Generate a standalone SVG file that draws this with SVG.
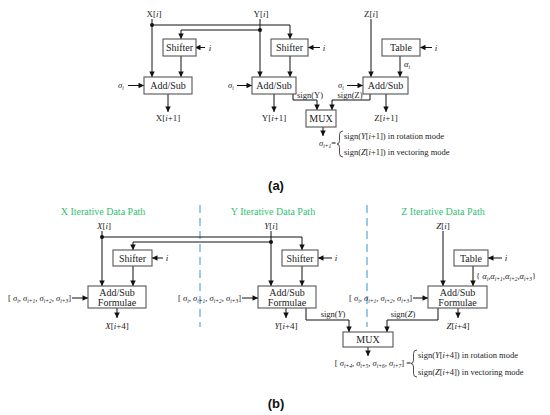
<svg xmlns="http://www.w3.org/2000/svg" width="550" height="415" viewBox="0 0 550 415">
<defs>
<marker id="ah" viewBox="0 0 6 6" refX="6" refY="3" markerWidth="6" markerHeight="5.5" markerUnits="userSpaceOnUse" orient="auto">
<path d="M0,0 L6,3 L0,6 z" fill="#111"/>
</marker>
<style>
text{font-family:"Liberation Serif","Times New Roman",serif;fill:#222}
.t{font-size:10px;text-anchor:middle}
.l{font-size:9px;text-anchor:middle}
.s{font-size:8.5px}
.m{text-anchor:middle}
.e{text-anchor:end}
.it{font-style:italic}
.sb{font-size:5.5px}
.box{fill:#fff;stroke:#555;stroke-width:1.1}
.c{fill:none;stroke:#111;stroke-width:1}
.a{fill:none;stroke:#111;stroke-width:1;marker-end:url(#ah)}
.dot{fill:#111}
.br{fill:none;stroke:#222;stroke-width:0.8}
.ttl{font-size:10px;text-anchor:middle;fill:#2fbf71}
.dash{stroke:#4a9fd8;stroke-width:1.1;stroke-dasharray:8,5}
.cap{font-family:"Liberation Sans",Arial,sans-serif;font-weight:bold;font-size:13px;text-anchor:middle;fill:#111}
</style>
</defs>
<rect width="550" height="415" fill="#fff"/>

<!-- ===== Part (a) ===== -->
<g id="connectors-a">
<path class="a" d="M152,19 V77"/>
<path class="a" d="M152,25 H290 V39"/>
<path class="a" d="M260,19 V77"/>
<path class="a" d="M260,30 H181 V39"/>
<path class="a" d="M181,56 V77"/>
<path class="a" d="M290,56 V77"/>
<path class="a" d="M205,47.5 H195"/>
<path class="a" d="M320,47.5 H308"/>
<path class="a" d="M128,85.5 H144"/>
<path class="a" d="M237,85.5 H252"/>
<path class="a" d="M347,85.5 H363"/>
<path class="a" d="M168,94 V112"/>
<path class="a" d="M274,94 V112"/>
<path class="a" d="M386,94 V112"/>
<path class="a" d="M371,19 V77"/>
<path class="a" d="M432,47.5 H420"/>
<path class="a" d="M400,56 V77"/>
<path class="a" d="M293,94 V100 H317 V110"/>
<path class="a" d="M370,94 V100 H332 V110"/>
<path class="a" d="M323,127 V136"/>
<circle class="dot" cx="152" cy="25" r="2"/>
<circle class="dot" cx="260" cy="30" r="2"/>
</g>

<g id="shifter-a1"><rect class="box" x="163" y="39" width="33" height="17"/><text class="t" x="179.5" y="51">Shifter</text></g>
<g id="shifter-a2"><rect class="box" x="271" y="39" width="37" height="17"/><text class="t" x="289.5" y="51">Shifter</text></g>
<g id="table-a"><rect class="box" x="382" y="39" width="38" height="17"/><text class="t" x="401" y="51">Table</text></g>
<g id="addsub-a1"><rect class="box" x="144" y="77" width="48" height="17"/><text class="t" x="168" y="89">Add/Sub</text></g>
<g id="addsub-a2"><rect class="box" x="252" y="77" width="44" height="17"/><text class="t" x="274" y="89">Add/Sub</text></g>
<g id="addsub-a3"><rect class="box" x="363" y="77" width="45" height="17"/><text class="t" x="385.5" y="89">Add/Sub</text></g>
<g id="mux-a"><rect class="box" x="306" y="110" width="30" height="17"/><text class="t" x="321" y="122">MUX</text></g>

<g id="labels-a">
<text class="l" x="154" y="17">X[<tspan class="it">i</tspan>]</text>
<text class="l" x="261" y="17">Y[<tspan class="it">i</tspan>]</text>
<text class="l" x="371" y="17">Z[<tspan class="it">i</tspan>]</text>
<text class="l it" x="210" y="51">i</text>
<text class="l it" x="324" y="51">i</text>
<text class="l it" x="436" y="51">i</text>
<text class="s" x="118" y="88"><tspan class="it">σ</tspan><tspan class="sb it" dy="1.5">i</tspan></text>
<text class="s" x="228" y="88"><tspan class="it">σ</tspan><tspan class="sb it" dy="1.5">i</tspan></text>
<text class="s" x="338" y="88"><tspan class="it">σ</tspan><tspan class="sb it" dy="1.5">i</tspan></text>
<text class="s" x="404" y="67"><tspan class="it">α</tspan><tspan class="sb it" dy="1.5">i</tspan></text>
<text class="l" x="168" y="121">X[<tspan class="it">i</tspan>+1]</text>
<text class="l" x="274" y="121">Y[<tspan class="it">i</tspan>+1]</text>
<text class="l" x="386" y="121">Z[<tspan class="it">i</tspan>+1]</text>
<text class="s m" x="310" y="98">sign(Y)</text>
<text class="s m" x="350" y="98">sign(Z)</text>
<text class="s e" x="336" y="146"><tspan class="it">σ</tspan><tspan class="sb it" dy="1.5">i+1</tspan><tspan dy="-1.5">=</tspan></text>
<path class="br" d="M343,131 Q339.5,131 339.5,134.5 V140.5 Q339.5,144 337,144 Q339.5,144 339.5,147.5 V153.5 Q339.5,157 343,157"/>
<text class="s" x="344" y="139">sign(<tspan class="it">Y</tspan>[<tspan class="it">i</tspan>+1]) in rotation mode</text>
<text class="s" x="344" y="155">sign(<tspan class="it">Z</tspan>[<tspan class="it">i</tspan>+1]) in vectoring mode</text>
<text class="cap" x="276" y="190">(a)</text>
</g>

<!-- ===== Part (b) ===== -->
<g id="dividers">
<line class="dash" x1="200" y1="205" x2="200" y2="327"/>
<line class="dash" x1="367" y1="205" x2="367" y2="327"/>
</g>

<g id="connectors-b">
<path class="a" d="M102,231 V286"/>
<path class="a" d="M102,237 H302 V250"/>
<path class="a" d="M271,231 V286"/>
<path class="a" d="M271,242 H133 V250"/>
<path class="a" d="M133,266 V286"/>
<path class="a" d="M302,266 V286"/>
<path class="a" d="M163,258 H152"/>
<path class="a" d="M332,258 H318"/>
<path class="a" d="M443,231 V286"/>
<path class="a" d="M502,258 H488"/>
<path class="a" d="M473,266 V286"/>
<path class="a" d="M72,298 H88"/>
<path class="a" d="M242,298 H258"/>
<path class="a" d="M413,298 H428"/>
<path class="a" d="M117,308 V318"/>
<path class="a" d="M286,308 V318"/>
<path class="a" d="M458,308 V318"/>
<path class="a" d="M306,308 V320 H349 V332"/>
<path class="a" d="M438,308 V320 H387 V332"/>
<path class="a" d="M368,347 V356"/>
<circle class="dot" cx="102" cy="237" r="2"/>
<circle class="dot" cx="271" cy="242" r="2"/>
</g>

<g id="shifter-b1"><rect class="box" x="113" y="250" width="39" height="16"/><text class="t" x="132.5" y="261.5">Shifter</text></g>
<g id="shifter-b2"><rect class="box" x="282" y="250" width="36" height="16"/><text class="t" x="300" y="261.5">Shifter</text></g>
<g id="table-b"><rect class="box" x="454" y="250" width="34" height="16"/><text class="t" x="471" y="261.5">Table</text></g>
<g id="addsub-b1"><rect class="box" x="88" y="286" width="58" height="22"/><text class="t" x="117" y="296">Add/Sub</text><text class="t" x="117" y="306">Formulae</text></g>
<g id="addsub-b2"><rect class="box" x="258" y="286" width="58" height="22"/><text class="t" x="287" y="296">Add/Sub</text><text class="t" x="287" y="306">Formulae</text></g>
<g id="addsub-b3"><rect class="box" x="428" y="286" width="59" height="22"/><text class="t" x="457.5" y="296">Add/Sub</text><text class="t" x="457.5" y="306">Formulae</text></g>
<g id="mux-b"><rect class="box" x="343" y="332" width="50" height="15"/><text class="t" x="368" y="343">MUX</text></g>

<g id="labels-b">
<text class="ttl" x="103" y="215">X Iterative Data Path</text>
<text class="ttl" x="273" y="215">Y Iterative Data Path</text>
<text class="ttl" x="443" y="215">Z Iterative Data Path</text>
<text class="l" x="104" y="229"><tspan class="it">X</tspan>[<tspan class="it">i</tspan>]</text>
<text class="l" x="271" y="229"><tspan class="it">Y</tspan>[<tspan class="it">i</tspan>]</text>
<text class="l" x="443" y="229"><tspan class="it">Z</tspan>[<tspan class="it">i</tspan>]</text>
<text class="l it" x="167" y="261">i</text>
<text class="l it" x="336" y="261">i</text>
<text class="l it" x="506" y="261">i</text>
<text class="s" x="476" y="279">{ <tspan class="it">α</tspan><tspan class="sb it" dy="1.5">i</tspan><tspan dy="-1.5">,</tspan><tspan class="it">α</tspan><tspan class="sb it" dy="1.5">i+1</tspan><tspan dy="-1.5">,</tspan><tspan class="it">α</tspan><tspan class="sb it" dy="1.5">i+2</tspan><tspan dy="-1.5">,</tspan><tspan class="it">α</tspan><tspan class="sb it" dy="1.5">i+3</tspan><tspan dy="-1.5">}</tspan></text>
<text class="s e" x="71" y="301">[ <tspan class="it">σ</tspan><tspan class="sb it" dy="1.5">i</tspan><tspan dy="-1.5">, </tspan><tspan class="it">σ</tspan><tspan class="sb it" dy="1.5">i+1</tspan><tspan dy="-1.5">, </tspan><tspan class="it">σ</tspan><tspan class="sb it" dy="1.5">i+2</tspan><tspan dy="-1.5">, </tspan><tspan class="it">σ</tspan><tspan class="sb it" dy="1.5">i+3</tspan><tspan dy="-1.5">]</tspan></text>
<text class="s e" x="241" y="301">[ <tspan class="it">σ</tspan><tspan class="sb it" dy="1.5">i</tspan><tspan dy="-1.5">, </tspan><tspan class="it">σ</tspan><tspan class="sb it" dy="1.5">i+1</tspan><tspan dy="-1.5">, </tspan><tspan class="it">σ</tspan><tspan class="sb it" dy="1.5">i+2</tspan><tspan dy="-1.5">, </tspan><tspan class="it">σ</tspan><tspan class="sb it" dy="1.5">i+3</tspan><tspan dy="-1.5">]</tspan></text>
<text class="s e" x="412" y="301">[ <tspan class="it">σ</tspan><tspan class="sb it" dy="1.5">i</tspan><tspan dy="-1.5">, </tspan><tspan class="it">σ</tspan><tspan class="sb it" dy="1.5">i+1</tspan><tspan dy="-1.5">, </tspan><tspan class="it">σ</tspan><tspan class="sb it" dy="1.5">i+2</tspan><tspan dy="-1.5">, </tspan><tspan class="it">σ</tspan><tspan class="sb it" dy="1.5">i+3</tspan><tspan dy="-1.5">]</tspan></text>
<text class="l" x="117" y="329"><tspan class="it">X</tspan>[<tspan class="it">i</tspan>+4]</text>
<text class="l" x="286" y="329"><tspan class="it">Y</tspan>[<tspan class="it">i</tspan>+4]</text>
<text class="l" x="458" y="329"><tspan class="it">Z</tspan>[<tspan class="it">i</tspan>+4]</text>
<text class="s m" x="333" y="317">sign(<tspan class="it">Y</tspan>)</text>
<text class="s m" x="403" y="317">sign(<tspan class="it">Z</tspan>)</text>
<text class="s e" x="411" y="366">[ <tspan class="it">σ</tspan><tspan class="sb it" dy="1.5">i+4</tspan><tspan dy="-1.5">, </tspan><tspan class="it">σ</tspan><tspan class="sb it" dy="1.5">i+5</tspan><tspan dy="-1.5">, </tspan><tspan class="it">σ</tspan><tspan class="sb it" dy="1.5">i+6</tspan><tspan dy="-1.5">, </tspan><tspan class="it">σ</tspan><tspan class="sb it" dy="1.5">i+7</tspan><tspan dy="-1.5">] =</tspan></text>
<path class="br" d="M417,350 Q413.5,350 413.5,353.5 V360 Q413.5,363.5 411,363.5 Q413.5,363.5 413.5,367 V373.5 Q413.5,377 417,377"/>
<text class="s" x="418" y="358">sign(<tspan class="it">Y</tspan>[<tspan class="it">i</tspan>+4]) in rotation mode</text>
<text class="s" x="418" y="375">sign(<tspan class="it">Z</tspan>[<tspan class="it">i</tspan>+4]) in vectoring mode</text>
<text class="cap" x="276" y="408">(b)</text>
</g>
</svg>
